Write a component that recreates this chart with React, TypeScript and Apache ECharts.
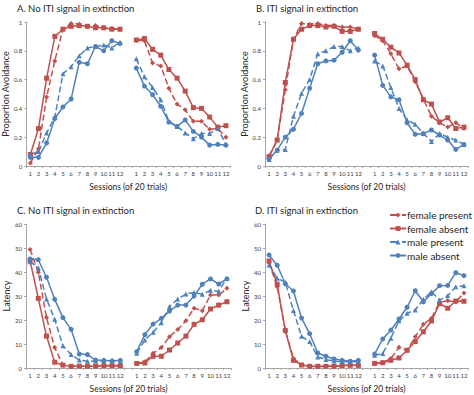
import React, { useEffect, useRef } from "react";
import * as echarts from "echarts";

const sessions = ["1", "2", "3", "4", "5", "6", "7", "8", "9", "10", "11", "12"];
const categories = [...sessions, "", ...sessions];
const seriesNames = ["female present", "female absent", "male present", "male absent"];
const panelTitles = [
  "A. No ITI signal in extinction",
  "B. ITI signal in extinction",
  "C. No ITI signal in extinction",
  "D. ITI signal in extinction",
];
const yNames = ["Proportion Avoidance", "Proportion Avoidance", "Latency", "Latency"];
const xName = "Sessions (of 20 trials)";

// Panel A (acquisition 1-12, then extinction 1-12)
const aFemalePresent = [0.02, 0.12, 0.48, 0.73, 0.95, 0.99, 0.985, 0.97, 0.975, 0.96, 0.955, 0.95,
  0.875, 0.87, 0.715, 0.695, 0.54, 0.43, 0.39, 0.31, 0.31, 0.255, 0.26, 0.2];
const aFemaleAbsent = [0.08, 0.26, 0.61, 0.9, 0.95, 0.97, 0.975, 0.97, 0.96, 0.96, 0.95, 0.95,
  0.875, 0.885, 0.81, 0.77, 0.67, 0.61, 0.52, 0.405, 0.4, 0.34, 0.27, 0.28];
const aMalePresent = [0.08, 0.1, 0.23, 0.34, 0.64, 0.69, 0.765, 0.82, 0.83, 0.84, 0.82, 0.86,
  0.745, 0.62, 0.545, 0.46, 0.31, 0.275, 0.23, 0.19, 0.225, 0.225, 0.26, 0.15];
const aMaleAbsent = [0.06, 0.06, 0.16, 0.33, 0.41, 0.465, 0.72, 0.71, 0.83, 0.8, 0.87, 0.85,
  0.68, 0.555, 0.495, 0.415, 0.305, 0.275, 0.32, 0.24, 0.2, 0.145, 0.15, 0.145];

// Panel B
const bFemalePresent = [0.07, 0.18, 0.53, 0.88, 0.99, 0.985, 0.99, 0.975, 0.975, 0.965, 0.965, 0.95,
  0.905, 0.87, 0.78, 0.675, 0.695, 0.585, 0.465, 0.345, 0.3, 0.27, 0.3, 0.26];
const bFemaleAbsent = [0.065, 0.18, 0.58, 0.88, 0.95, 0.975, 0.975, 0.965, 0.97, 0.935, 0.935, 0.95,
  0.92, 0.88, 0.825, 0.785, 0.7, 0.6, 0.46, 0.43, 0.305, 0.335, 0.26, 0.27];
const bMalePresent = [0.045, 0.11, 0.115, 0.345, 0.505, 0.6, 0.78, 0.8, 0.83, 0.83, 0.8, 0.82,
  0.73, 0.695, 0.545, 0.4, 0.32, 0.29, 0.225, 0.17, 0.225, 0.2, 0.18, 0.15];
const bMaleAbsent = [0.05, 0.11, 0.2, 0.255, 0.365, 0.54, 0.71, 0.73, 0.735, 0.79, 0.87, 0.805,
  0.77, 0.56, 0.48, 0.46, 0.3, 0.22, 0.225, 0.25, 0.215, 0.18, 0.115, 0.15];

// Panel C
const cFemalePresent = [49.4, 39.9, 21, 8.5, 1.3, 0.6, 0.7, 0.7, 0.7, 1.0, 0.8, 0.8,
  1.9, 2.6, 6.1, 8.5, 13, 16, 19.7, 24.9, 23.9, 30.4, 30.4, 33.2];
const cFemaleAbsent = [44.7, 29, 13.3, 2.4, 1.2, 0.7, 0.8, 0.7, 0.8, 1.0, 1.0, 1.0,
  1.9, 2.1, 4.9, 4.9, 7.5, 10.4, 13.3, 18.2, 20.1, 24.6, 26.2, 27.6];
const cMalePresent = [44.3, 41.8, 28.8, 20.3, 9.3, 5.6, 3.3, 2.8, 2.9, 2.9, 2.8, 2.8,
  6.1, 11.7, 14.9, 18.9, 25.6, 28.7, 30.8, 31.5, 30.7, 32.4, 32, 37.4];
const cMaleAbsent = [45.4, 45.1, 37.8, 28.6, 21, 16.1, 5.8, 5.6, 3.3, 3.2, 2.9, 3.2,
  6.8, 13.9, 18.3, 20.7, 23.7, 26.2, 26.2, 30, 34.9, 37.1, 35, 37.1];

// Panel D
const dFemalePresent = [43.9, 33.9, 15.7, 4.0, 1.25, 0.7, 0.6, 0.7, 0.7, 1.0, 1.1, 1.1,
  2.1, 2.2, 4.0, 8.6, 7.4, 13, 18.2, 20.7, 27.4, 28, 27.6, 31.2];
const dFemaleAbsent = [44.6, 34.9, 15.6, 3.2, 1.25, 0.7, 0.7, 0.7, 0.7, 1.0, 1.1, 1.1,
  1.9, 2.2, 3.2, 4.2, 7.4, 11, 15.1, 19.6, 26.8, 24.9, 27.9, 27.8];
const dMalePresent = [42.9, 37.4, 35.7, 24, 13.2, 11, 4.6, 3.5, 2.9, 2.6, 2.6, 2.6,
  5.3, 6.0, 12.4, 19.7, 22.8, 24.2, 28.6, 31.8, 28.3, 30.1, 33.9, 34.3];
const dMaleAbsent = [47.1, 42.8, 35.1, 32.1, 20.8, 14.3, 6.25, 4.9, 3.75, 3.2, 2.8, 3.2,
  5.8, 12.1, 15.8, 20.4, 25.3, 32.2, 27.6, 31, 34.3, 34.4, 39.7, 38.5];

const panels = [
  [aFemalePresent, aFemaleAbsent, aMalePresent, aMaleAbsent],
  [bFemalePresent, bFemaleAbsent, bMalePresent, bMaleAbsent],
  [cFemalePresent, cFemaleAbsent, cMalePresent, cMaleAbsent],
  [dFemalePresent, dFemaleAbsent, dMalePresent, dMaleAbsent],
];

const RED = "#c0504d";
const BLUE = "#4f81bd";
const FONT = "Lato";

const seriesStyles = [
  { color: RED, dash: "dashed", symbol: "diamond", size: 5 },
  { color: RED, dash: "solid", symbol: "rect", size: 5 },
  { color: BLUE, dash: "dashed", symbol: "triangle", size: 5 },
  { color: BLUE, dash: "solid", symbol: "circle", size: 5 },
];

const grids = [
  { left: 26, top: 22, width: 204, height: 144 },
  { left: 265, top: 22, width: 203, height: 144 },
  { left: 26, top: 224, width: 205, height: 144 },
  { left: 265, top: 224, width: 203, height: 144 },
];
const titlePos = [
  { left: 17, top: 3 },
  { left: 256, top: 3 },
  { left: 17, top: 205 },
  { left: 255, top: 205 },
];

function withGap(vals: number[]) {
  return [...vals.slice(0, 12), null, ...vals.slice(12)];
}

export default function App() {
  const ref = useRef<HTMLDivElement>(null);
  useEffect(() => {
    if (!ref.current) return;
    const chart = echarts.init(ref.current, null, { renderer: "svg" });
    const series: any[] = [];
    panels.forEach((panel, pi) => {
      panel.forEach((vals, si) => {
        const st = seriesStyles[si];
        series.push({
          name: seriesNames[si],
          type: "line",
          xAxisIndex: pi,
          yAxisIndex: pi,
          data: withGap(vals),
          symbol: st.symbol,
          symbolSize: st.size,
          connectNulls: false,
          lineStyle: { color: st.color, width: 1.5, type: st.dash },
          itemStyle: { color: st.color },
          z: 3,
        });
      });
    });
    chart.setOption({
      animation: false,
      backgroundColor: "#ffffff",
      textStyle: { fontFamily: FONT },
      title: panelTitles.map((t, i) => ({
        text: t,
        left: titlePos[i].left,
        top: titlePos[i].top,
        padding: 0,
        textStyle: { fontFamily: FONT, fontSize: 9.5, fontWeight: "normal", color: "#262626" },
      })),
      legend: {
        data: seriesNames,
        orient: "vertical",
        left: 384,
        top: 205,
        itemWidth: 16,
        itemHeight: 6,
        itemGap: 3.5,
        textStyle: { fontFamily: FONT, fontSize: 10, color: "#262626", padding: [0, 0, 0, -4] },
      },
      grid: grids,
      xAxis: grids.map((_, i) => ({
        type: "category",
        gridIndex: i,
        data: categories,
        boundaryGap: true,
        name: xName,
        nameLocation: "middle",
        nameGap: 16,
        nameTextStyle: { fontFamily: FONT, fontSize: 8.5, color: "#262626" },
        axisLine: { lineStyle: { color: "#a6a6a6", width: 1 } },
        axisTick: { show: true, alignWithLabel: false, length: 2, lineStyle: { color: "#a6a6a6" } },
        axisLabel: { interval: 0, fontSize: 6, color: "#404040", margin: 4, fontFamily: FONT },
        splitLine: { show: false },
      })),
      yAxis: grids.map((_, i) => ({
        type: "value",
        gridIndex: i,
        min: 0,
        max: i < 2 ? 1 : 60,
        interval: i < 2 ? 0.2 : 10,
        name: yNames[i],
        nameLocation: "middle",
        nameRotate: 90,
        nameGap: 15,
        nameTextStyle: { fontFamily: FONT, fontSize: 9, color: "#262626" },
        axisLine: { show: true, lineStyle: { color: "#a6a6a6", width: 1 } },
        axisTick: { show: true, length: 2, lineStyle: { color: "#a6a6a6" } },
        axisLabel: { fontSize: 6, color: "#404040", margin: 4, fontFamily: FONT },
        splitLine: { show: false },
      })),
      series,
    });
    return () => chart.dispose();
  }, []);
  return (
    <div
      ref={ref}
      style={{ position: "fixed", left: 0, top: 0, width: 474, height: 395 }}
    />
  );
}
